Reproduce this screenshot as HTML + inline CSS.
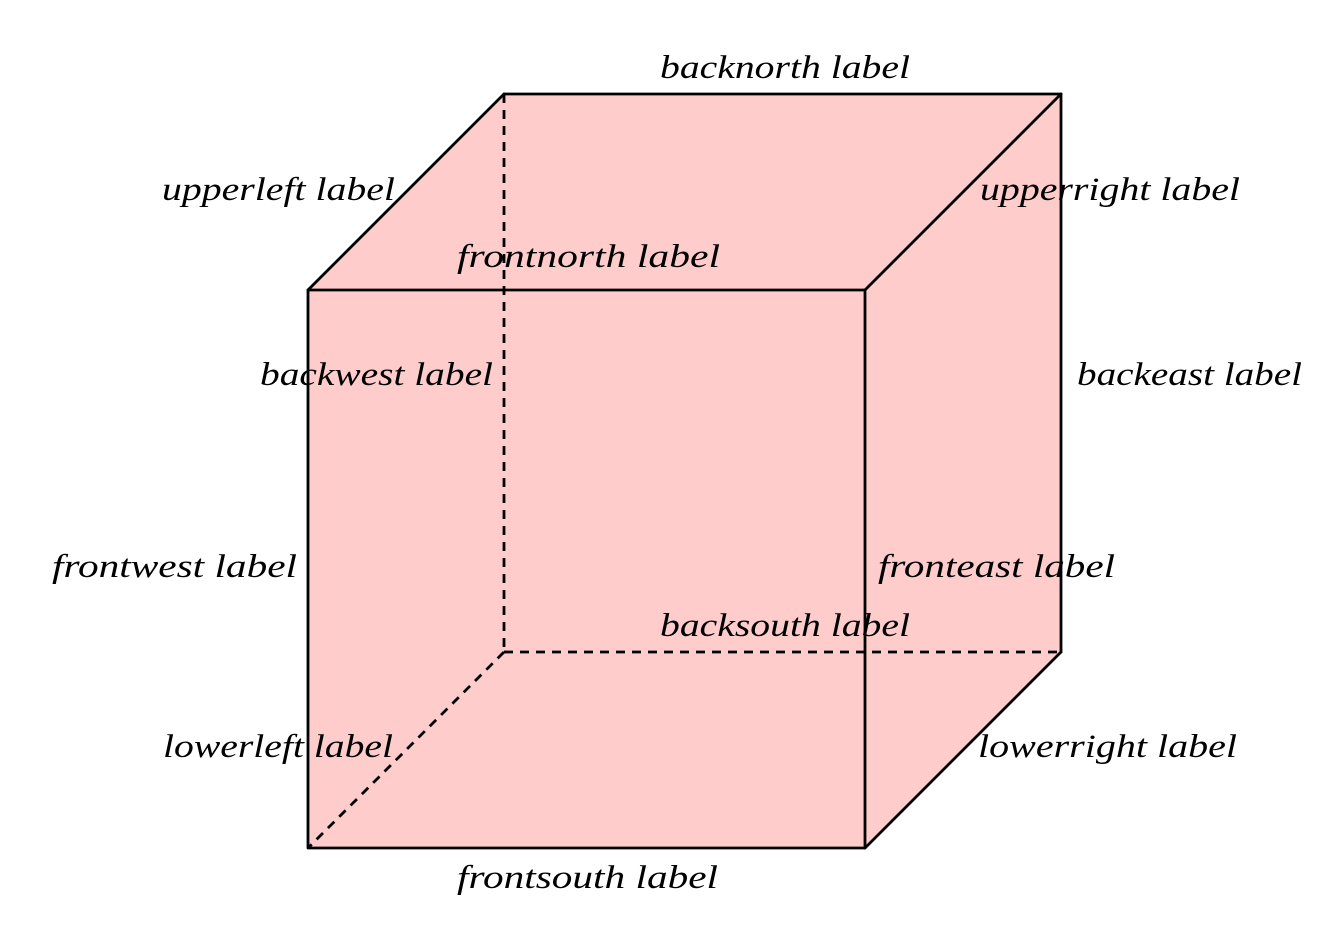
<!DOCTYPE html>
<html><head><meta charset="utf-8"><style>
html,body{margin:0;padding:0;background:#fff;}
svg{display:block;}
text{font-family:"Liberation Serif","DejaVu Serif",serif;font-style:italic;font-size:33px;fill:#000;}
</style></head><body>
<svg width="1342" height="938" viewBox="0 0 1342 938" xmlns="http://www.w3.org/2000/svg">
<polygon points="308,290 504,94 1061,94 1061,652 865,848 308,848" fill="#ffcccc" stroke="none"/>
<g stroke="#000" stroke-width="2.8" fill="none" stroke-linecap="round" stroke-linejoin="round">
<g stroke-dasharray="9,7" stroke-linecap="butt">
<line x1="504" y1="94" x2="504" y2="652"/>
<line x1="504" y1="652" x2="1061" y2="652"/>
<line x1="504" y1="652" x2="308" y2="848"/>
</g>
<polygon points="308,290 865,290 865,848 308,848"/>
<line x1="308" y1="290" x2="504" y2="94"/>
<line x1="504" y1="94" x2="1061" y2="94"/>
<line x1="865" y1="290" x2="1061" y2="94"/>
<line x1="1061" y1="94" x2="1061" y2="652"/>
<line x1="1061" y1="652" x2="865" y2="848"/>
</g>
<text x="660" y="78" textLength="250" lengthAdjust="spacingAndGlyphs">backnorth label</text>
<text x="162" y="200" textLength="233" lengthAdjust="spacingAndGlyphs">upperleft label</text>
<text x="980" y="200" textLength="260" lengthAdjust="spacingAndGlyphs">upperright label</text>
<text x="457" y="267" textLength="263" lengthAdjust="spacingAndGlyphs">frontnorth label</text>
<text x="260" y="385" textLength="233" lengthAdjust="spacingAndGlyphs">backwest label</text>
<text x="1077" y="385" textLength="225" lengthAdjust="spacingAndGlyphs">backeast label</text>
<text x="52" y="577" textLength="245" lengthAdjust="spacingAndGlyphs">frontwest label</text>
<text x="878" y="577" textLength="237" lengthAdjust="spacingAndGlyphs">fronteast label</text>
<text x="660" y="636" textLength="250" lengthAdjust="spacingAndGlyphs">backsouth label</text>
<text x="163" y="757" textLength="230" lengthAdjust="spacingAndGlyphs">lowerleft label</text>
<text x="978" y="757" textLength="259" lengthAdjust="spacingAndGlyphs">lowerright label</text>
<text x="457" y="888" textLength="261" lengthAdjust="spacingAndGlyphs">frontsouth label</text>
</svg>
</body></html>
